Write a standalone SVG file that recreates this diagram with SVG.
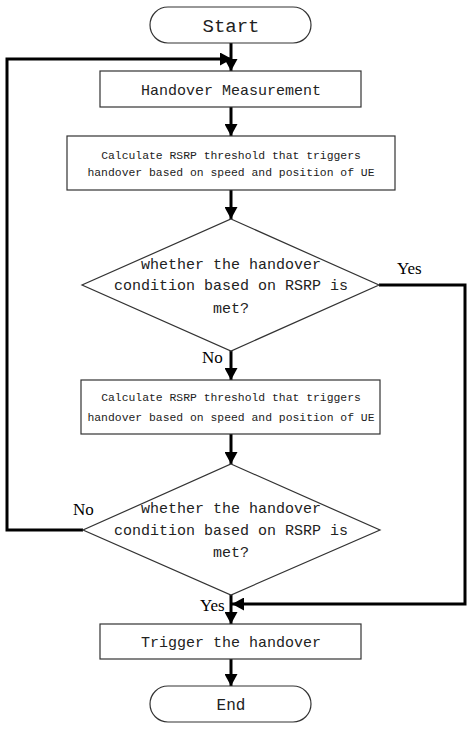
<svg xmlns="http://www.w3.org/2000/svg" width="474" height="729" viewBox="0 0 474 729">
<style>
.shape{fill:#fff;stroke:#333;stroke-width:1.2}
.t{font-family:"Liberation Mono",monospace;fill:#222;text-anchor:middle}
.lbl{font-family:"Liberation Serif",serif;font-size:17px;fill:#000}
.c{fill:none;stroke:#000;stroke-width:3;marker-end:url(#ah)}
</style>
<defs>
<marker id="ah" markerUnits="userSpaceOnUse" markerWidth="13" markerHeight="13" refX="12" refY="6.5" orient="auto">
<path d="M0,0 L12,6.5 L0,13 z" fill="#000"/>
</marker>
</defs>
<rect width="474" height="729" fill="#fff"/>
<g id="connectors">
<path class="c" d="M231,43 V71"/>
<path class="c" d="M83,530 H7 V59 H232"/>
<path class="c" d="M231,107 V136"/>
<path class="c" d="M231,190 V219"/>
<path class="c" d="M231,350 V380"/>
<path class="c" d="M231,434 V464"/>
<path class="c" d="M379,285 H465 V604 H232"/>
<path class="c" d="M231,594 V624"/>
<path class="c" d="M231,659 V686"/>
</g>
<g id="start">
<rect class="shape" x="150" y="7" width="161" height="36" rx="18"/>
<text class="t" x="231" y="32" font-size="19">Start</text>
</g>
<g id="measure">
<rect class="shape" x="100" y="71" width="261" height="36"/>
<text class="t" x="231" y="95" font-size="15">Handover Measurement</text>
</g>
<g id="calc1">
<rect class="shape" x="67" y="136" width="328" height="54"/>
<text class="t" x="231" y="159" font-size="11.4">Calculate RSRP threshold that triggers</text>
<text class="t" x="231" y="176" font-size="11.4">handover based on speed and position of UE</text>
</g>
<g id="decision1">
<polygon class="shape" points="231,219 379,285 231,351 82,285"/>
<text class="t" x="231" y="269" font-size="15">whether the handover</text>
<text class="t" x="231" y="290" font-size="15">condition based on RSRP is</text>
<text class="t" x="231" y="313" font-size="15">met?</text>
</g>
<g id="calc2">
<rect class="shape" x="81" y="380" width="299" height="54"/>
<text class="t" x="231" y="401" font-size="11.4">Calculate RSRP threshold that triggers</text>
<text class="t" x="231" y="421" font-size="11.4">handover based on speed and position of UE</text>
</g>
<g id="decision2">
<polygon class="shape" points="231,464 380,530 231,595 83,530"/>
<text class="t" x="231" y="513" font-size="15">whether the handover</text>
<text class="t" x="231" y="535" font-size="15">condition based on RSRP is</text>
<text class="t" x="231" y="557" font-size="15">met?</text>
</g>
<g id="trigger">
<rect class="shape" x="100" y="624" width="261" height="35"/>
<text class="t" x="231" y="647" font-size="15">Trigger the handover</text>
</g>
<g id="end">
<rect class="shape" x="150" y="686" width="161" height="36" rx="18"/>
<text class="t" x="231" y="710" font-size="16">End</text>
</g>
<g id="labels">
<text class="lbl" x="397" y="274">Yes</text>
<text class="lbl" x="202" y="363">No</text>
<text class="lbl" x="73" y="515">No</text>
<text class="lbl" x="200" y="611">Yes</text>
</g>
</svg>
